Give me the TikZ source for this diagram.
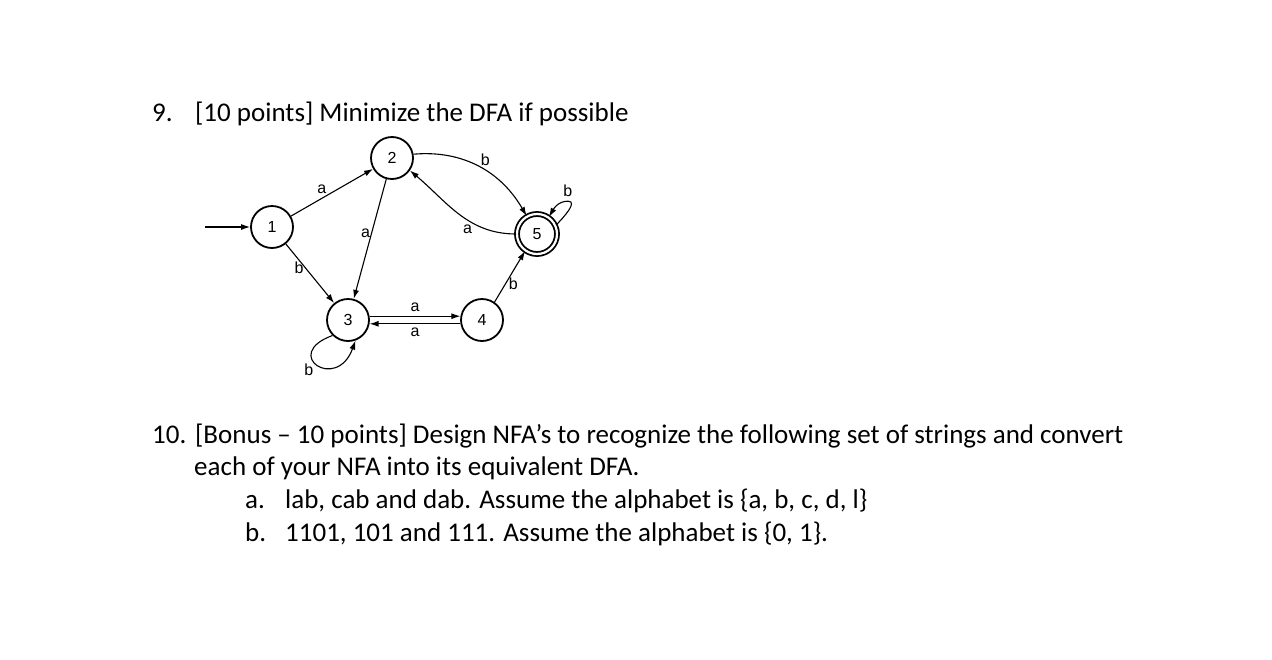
\documentclass[tikz,border=0pt]{standalone}
\usepackage{fontspec}
\setmainfont{Carlito}
\newfontfamily\arial{Liberation Sans}
\usetikzlibrary{arrows.meta}
\begin{document}
\begin{tikzpicture}[x=1pt,y=-1pt,
  st/.style={circle,draw,line width=1.8pt,minimum size=42pt,inner sep=0pt,font=\arial\fontsize{16}{16}\selectfont},
  tr/.style={-{Latex[length=9pt,width=6pt]},line width=1.1pt},
  lb/.style={font=\arial\fontsize{16}{16}\selectfont,inner sep=1pt},
  tx/.style={anchor=base west,inner sep=0pt,font=\fontsize{27}{30}\selectfont}]
\useasboundingbox (0,0) rectangle (1272,659);
\node[tx] (q9n) at (152,121) {9.};
\node[tx] (q9) at (195,121) {[10 points] Minimize the DFA if possible};
\node[st] (n1) at (272,227) {1};
\node[st] (n2) at (392,158) {2};
\node[st] (n3) at (348,320) {3};
\node[st] (n4) at (482,320) {4};
\node[st,double,double distance=2.2pt,minimum size=40pt] (n5) at (537,234) {5};
\coordinate (s) at (205,227);
\draw[tr] (s) -- (n1);
\draw[tr] (n1) -- node[lb,above left,pos=0.45] {a} (n2);
\draw[tr] (n1) -- node[lb,left,pos=0.4] {b} (n3);
\draw[tr] (n2) -- node[lb,left,pos=0.45] {a} (n3);
\draw[tr] (n2.10) to[out=5,in=120] node[lb,above right,pos=0.5] {b} (n5.120);
\draw[tr] (n5.west) to[out=180,in=-40] node[lb,below left,pos=0.35] {a} (n2.-35);
\draw[tr] (n3.10) -- node[lb,above=3pt] {a} (n4.170);
\draw[tr] (n4.-170) -- node[lb,below=3pt] {a} (n3.-10);
\draw[tr] (n4.55) -- node[lb,right=2pt,pos=0.35] {b} (n5.-125);
\draw[tr] (n5.25) to[out=45,in=0,looseness=1] ++(12,-24) node[lb,above=3pt] {b} to[out=180,in=60] (n5.55);
\draw[tr] (n3.-135) to[out=200,in=250,looseness=6] node[lb,below left,pos=0.45] {b} (n3.-70);
\node[tx] (q10n) at (152,443) {10.};
\node[tx] (q10) at (195,443) {[Bonus -- 10 points] Design NFA’s to recognize the following set of strings and convert};
\node[tx] (q10b) at (194,475) {each of your NFA into its equivalent DFA.};
\node[tx] (qan) at (245,508) {a.};
\node[tx] (qa) at (285,508) {lab, cab and dab. Assume the alphabet is \{a, b, c, d, l\}};
\node[tx] (qbn) at (245,541) {b.};
\node[tx] (qb) at (285,541) {1101, 101 and 111. Assume the alphabet is \{0, 1\}.};
\end{tikzpicture}
\end{document}
